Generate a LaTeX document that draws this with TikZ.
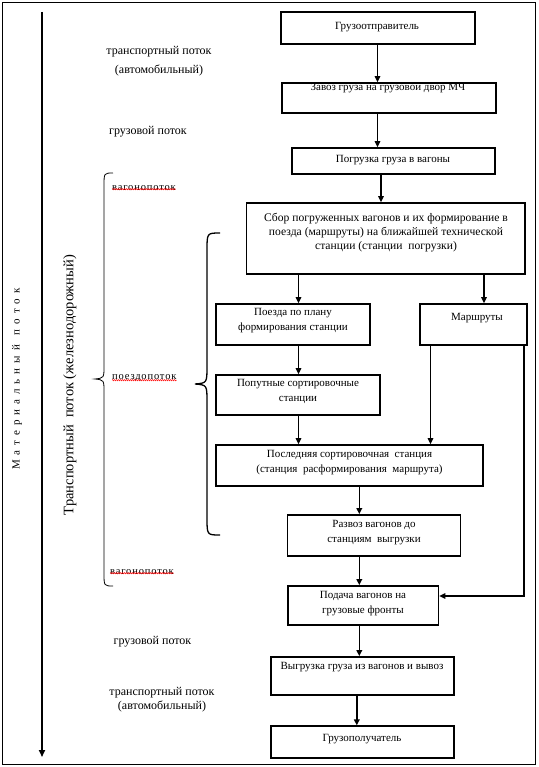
\documentclass[tikz,border=0pt]{standalone}
\usepackage{fontspec}
\setmainfont{Liberation Serif}
\usetikzlibrary{arrows.meta,decorations.pathmorphing}
\begin{document}
\begin{tikzpicture}[x=1pt,y=-1pt,
  box/.style={draw, line width=1.6pt, inner sep=0pt},
  txt/.style={inner sep=0pt, align=center, font=\fontsize{11}{15}\selectfont},
  arr/.style={line width=1.4pt, -{Triangle[length=6pt,width=5.5pt]}},
  lab/.style={inner sep=0pt, align=center, font=\fontsize{12}{19}\selectfont},
  sp/.style={inner sep=0pt, font=\fontsize{10.5}{12}\selectfont\addfontfeatures{LetterSpace=8}},
  wavy/.style={red, line width=0.5pt, decorate, decoration={snake, amplitude=0.6pt, segment length=2pt}},
  brace/.style={line width=0.8pt}
]
\useasboundingbox (0,0) rectangle (538,767);
\draw[line width=1.8pt] (2.5,2.5) rectangle (535.5,764.5);

% boxes
\node[box, minimum width=194pt, minimum height=32pt] (b1) at (378,28) {};
\node[box, minimum width=214pt, minimum height=30pt] (b2) at (389,98) {};
\node[box, minimum width=203pt, minimum height=26pt] (b3) at (393.5,161) {};
\node[box, minimum width=278.5pt, minimum height=71pt] (b4) at (385.75,238.5) {};
\node[box, minimum width=154pt, minimum height=41pt] (b5) at (293,324.5) {};
\node[box, minimum width=107pt, minimum height=41pt] (b6) at (473.5,324.5) {};
\node[box, minimum width=164pt, minimum height=40pt] (b7) at (298,395) {};
\node[box, minimum width=267pt, minimum height=41pt] (b8) at (349.5,465.5) {};
\node[box, minimum width=173pt, minimum height=41pt] (b9) at (374,535.5) {};
\node[box, minimum width=150.5pt, minimum height=39pt] (b10) at (363.25,605.5) {};
\node[box, minimum width=183pt, minimum height=38pt] (b11) at (362.5,676) {};
\node[box, minimum width=183pt, minimum height=31.5pt] (b12) at (362.5,742) {};

% box texts
\node[txt] (t1) at (377,27) {Грузоотправитель};
\node[txt] (t2) at (388,88) {Завоз груза на грузовой двор МЧ};
\node[txt] (t3) at (393,160.5) {Погрузка груза в вагоны};
\node[txt, font=\fontsize{11.6}{14}\selectfont] (t4) at (386,233) {Сбор погруженных вагонов и их формирование в\\поезда (маршруты) на ближайшей технической\\станции (станции \ погрузки)};
\node[txt] (t5) at (293,321) {Поезда по плану\\формирования станции};
\node[txt] (t6) at (477,318) {Маршруты};
\node[txt] (t7) at (298,391.5) {Попутные сортировочные\\станции};
\node[txt] (t8) at (349.5,463) {Последняя сортировочная \ станция\\(станция \ расформирования \ маршрута)};
\node[txt] (t9) at (374,532.5) {Развоз вагонов до\\станциям \ выгрузки};
\node[txt] (t10) at (363,603.5) {Подача вагонов на\\грузовые фронты};
\node[txt] (t11) at (362,667) {Выгрузка груза из вагонов и вывоз};
\node[txt] (t12) at (362,739) {Грузополучатель};

% column coordinates
\coordinate (cA) at (377.5,0);
\coordinate (cB) at (381,0);
\coordinate (cC) at (298.5,0);
\coordinate (cD) at (484,0);
\coordinate (cE) at (430.5,0);
\coordinate (cF) at (524,0);
\coordinate (cG) at (359.3,0);
\coordinate (cH) at (356.8,0);
\coordinate (rI) at (0,596);

% connectors
\draw[arr] (b1.south -| cA) -- (b2.north -| cA);
\draw[arr] (b2.south -| cA) -- (b3.north -| cA);
\draw[arr] (b3.south -| cB) -- (b4.north -| cB);
\draw[arr] (b4.south -| cC) -- (b5.north -| cC);
\draw[arr] (b4.south -| cD) -- (b6.north -| cD);
\draw[arr] (b5.south -| cC) -- (b7.north -| cC);
\draw[arr] (b7.south -| cC) -- (b8.north -| cC);
\draw[arr] (b6.south -| cE) -- (b8.north -| cE);
\draw[arr] (b6.south -| cF) |- (b10.east |- rI);
\draw[arr] (b8.south -| cG) -- (b9.north -| cG);
\draw[arr] (b9.south -| cG) -- (b10.north -| cG);
\draw[arr] (b10.south -| cG) -- (b11.north -| cG);
\draw[arr] (b11.south -| cH) -- (b12.north -| cH);

% left axis
\coordinate (ltop) at (42,12);
\coordinate (lbot) at (42,757);
\draw[line width=1.6pt, -{Triangle[length=7pt,width=6pt]}] (ltop) -- (lbot);

% rotated labels
\node[inner sep=0pt, rotate=90, font=\fontsize{11}{13}\selectfont\addfontfeatures{LetterSpace=20}] (mp) at (17,379) {М а т е р и а л ь н ы й \ п о т о к};
\node[inner sep=0pt, rotate=90, font=\fontsize{14.5}{16}\selectfont] (tp) at (70,385) {Транспортный \ поток (железнодорожный)};

% left labels
\node[lab] (l1) at (159,61.5) {транспортный поток\\(автомобильный)};
\node[lab] (l2) at (148,132) {грузовой поток};
\node[sp, anchor=west] (v1) at (112,188) {вагонопоток};
\node[sp, anchor=west] (p1) at (112,378) {поездопоток};
\node[sp, anchor=west] (v2) at (110,572) {вагонопоток};
\node[lab] (l3) at (152.5,642) {грузовой поток};
\node[lab, font=\fontsize{12}{14}\selectfont] (l4) at (162,700) {транспортный поток\\(автомобильный)};

% spell-check underlines
\draw[wavy] ([yshift=1.5pt]v1.south west) -- ([yshift=1.5pt]v1.south east);
\draw[wavy] ([yshift=1.5pt]p1.south west) -- ([yshift=1.5pt]p1.south east);
\draw[wavy] ([yshift=1.5pt]v2.south west) -- ([yshift=1.5pt]v2.south east);

% braces
\draw[brace] (113,173) .. controls (104,173) .. (104,186) -- (104,366) .. controls (104,378) .. (95,379) .. controls (104,380) .. (104,392) -- (104,573) .. controls (104,586) .. (113,586);
\draw[brace, line width=1.3pt] (220,233) .. controls (207,233) .. (207,250) -- (207,366) .. controls (207,383) .. (195,384) .. controls (207,385) .. (207,402) -- (207,518) .. controls (207,535) .. (220,535);
\end{tikzpicture}
\end{document}
